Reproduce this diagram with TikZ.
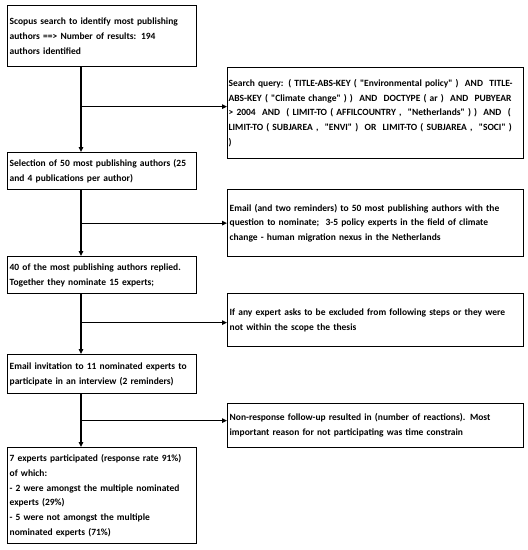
\documentclass[tikz,border=0pt]{standalone}
\usepackage{fontspec}
\setmainfont{Carlito}[Ligatures=TeXOff]
\usetikzlibrary{arrows.meta}
\newcommand{\jl}[1]{\makebox[\linewidth][s]{#1}}
\begin{document}
\begin{tikzpicture}[x=1pt,y=-1pt,
  box/.style={draw,line width=1.3pt,rectangle,inner ysep=0pt,inner xsep=1.5pt,anchor=north west,
    font=\bfseries\fontsize{9.5}{14.8}\selectfont,align=left},
  lbox/.style={box,minimum width=189pt,text width=185pt},
  rbox/.style={box,minimum width=296pt,text width=292pt},
  arr/.style={line width=1.3pt,-{Triangle[length=5pt,width=4.5pt]}}]
\useasboundingbox (0,0) rectangle (528,550);
\node[lbox,minimum height=61pt] (b1) at (7,5) {Scopus search to identify most publishing\\authors ==> Number of results: 194\\authors identified};
\node[rbox,minimum height=91pt,inner xsep=0.5pt,text width=294pt] (r1) at (227,67) {\jl{Search query: ( TITLE-ABS-KEY ( "Environmental policy" )\ \ AND\ \ TITLE-}\\\jl{ABS-KEY ( "Climate change" ) )\ \ AND\ \ DOCTYPE ( ar )\ \ AND\ \ PUBYEAR}\\\jl{> 2004\ \ AND\ \ ( LIMIT-TO ( AFFILCOUNTRY ,\ \ "Netherlands" ) )\ \ AND\ \ (}\\\jl{LIMIT-TO ( SUBJAREA ,\ \ "ENVI" )\ \ OR\ \ LIMIT-TO ( SUBJAREA ,\ \ "SOCI" )}\\)};
\node[lbox,minimum height=37pt] (b2) at (7,152) {Selection of 50 most publishing authors (25\\and 4 publications per author)};
\node[rbox,minimum height=67pt] (r2) at (227,189) {Email (and two reminders) to 50 most publishing authors with the\\question to nominate;\ \ 3-5 policy experts in the field of climate\\change - human migration nexus in the Netherlands};
\node[lbox,minimum height=37pt] (b3) at (7,256) {40 of the most publishing authors replied.\\Together they nominate 15 experts;};
\node[rbox,minimum height=53pt] (r3) at (227,293) {If any expert asks to be excluded from following steps or they were\\not within the scope the thesis};
\node[lbox,minimum height=39pt] (b4) at (7,354) {Email invitation to 11 nominated experts to\\participate in an interview (2 reminders)};
\node[rbox,minimum height=44pt] (r4) at (227,403) {Non-response follow-up resulted in (number of reactions). Most\\important reason for not participating was time constrain};
\node[lbox,minimum height=96pt] (b5) at (7,447) {7 experts participated (response rate 91\%)\\of which:\\- 2 were amongst the multiple nominated\\experts (29\%)\\- 5 were not amongst the multiple\\nominated experts (71\%)};
\foreach \a/\b in {b1/b2,b2/b3,b3/b4,b4/b5}
  \draw[arr] ([xshift=74pt]\a.south west) -- ([xshift=74pt]\b.north west);
\draw[arr] ([xshift=74pt,yshift=6.5pt]b1.south west |- r1.west) -- ([yshift=6.5pt]r1.west);
\draw[arr] ([xshift=74pt]b1.south west |- r2.west) -- (r2.west);
\draw[arr] ([xshift=74pt,yshift=-2.5pt]b1.south west |- r3.west) -- ([yshift=-2.5pt]r3.west);
\draw[arr] ([xshift=74pt,yshift=5pt]b1.south west |- r4.west) -- ([yshift=5pt]r4.west);
\end{tikzpicture}
\end{document}
